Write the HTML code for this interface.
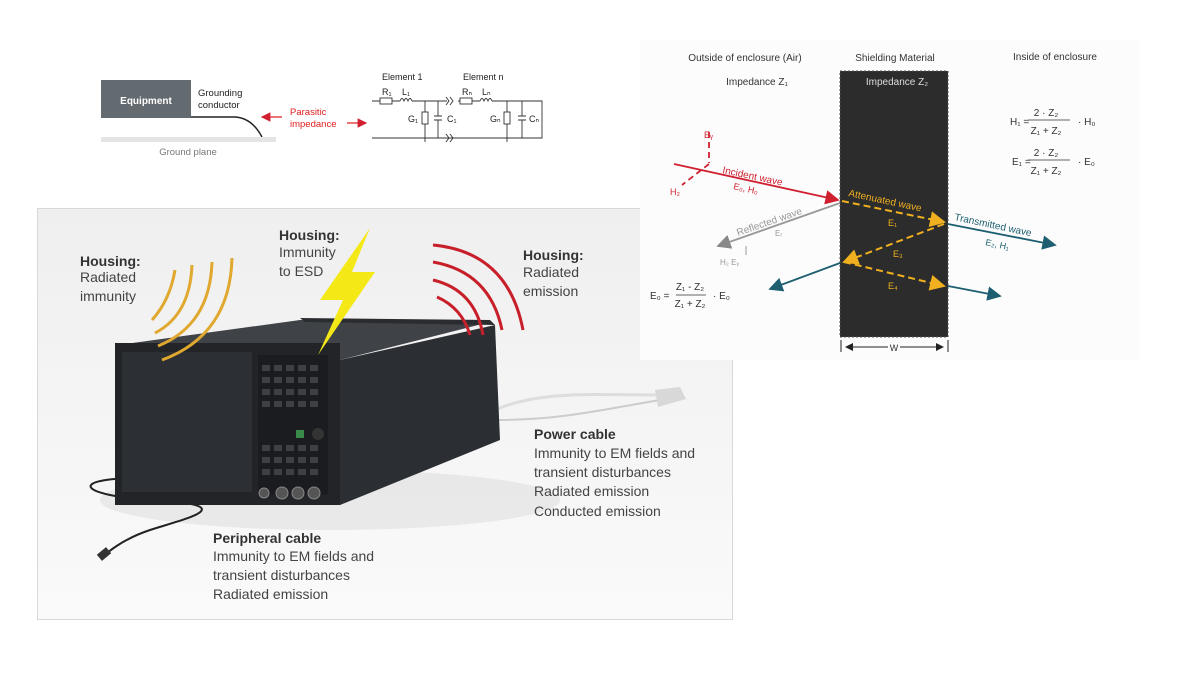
<!DOCTYPE html>
<html><head><meta charset="utf-8"><style>
body{margin:0;background:#fff;}
svg{display:block;font-family:"Liberation Sans",sans-serif;}
</style></head><body>
<svg width="1200" height="675" viewBox="0 0 1200 675" xmlns="http://www.w3.org/2000/svg">
<defs>
<linearGradient id="bg" x1="0" y1="0" x2="0" y2="1"><stop offset="0" stop-color="#efefef"/><stop offset="1" stop-color="#fafafa"/></linearGradient>
<marker id="ar" markerWidth="8" markerHeight="8" refX="7" refY="4" orient="auto"><path d="M0,0 L8,4 L0,8z" fill="#d02030"/></marker>
<marker id="ag" markerWidth="8" markerHeight="8" refX="7" refY="4" orient="auto"><path d="M0,0 L8,4 L0,8z" fill="#888"/></marker>
<marker id="ay" markerWidth="8" markerHeight="8" refX="7" refY="4" orient="auto"><path d="M0,0 L8,4 L0,8z" fill="#f0b020"/></marker>
<marker id="at" markerWidth="8" markerHeight="8" refX="7" refY="4" orient="auto"><path d="M0,0 L8,4 L0,8z" fill="#1d5f70"/></marker>
<marker id="ab" markerWidth="8" markerHeight="8" refX="7" refY="4" orient="auto"><path d="M0,0 L8,4 L0,8z" fill="#222"/></marker>
</defs>

<!-- top-left circuit -->
<rect x="101" y="80" width="90" height="38" fill="#636b70"/>
<text x="146" y="104" font-size="10" font-weight="bold" fill="#fff" text-anchor="middle">Equipment</text>
<text x="198" y="96" font-size="9.5" fill="#222">Grounding</text>
<text x="198" y="108" font-size="9.5" fill="#222">conductor</text>
<path d="M191,117 L235,117 Q252,118 262,137" fill="none" stroke="#222" stroke-width="1.5"/>
<rect x="101" y="137" width="175" height="5" fill="#e4e4e4"/>
<text x="188" y="155" font-size="9.5" fill="#777" text-anchor="middle">Ground plane</text>
<line x1="282" y1="117" x2="262" y2="117" stroke="#e02020" stroke-width="1.2" marker-end="url(#ar)"/>
<text x="290" y="115" font-size="9.5" fill="#e02020">Parasitic</text>
<text x="290" y="127" font-size="9.5" fill="#e02020">impedance</text>
<line x1="347" y1="123" x2="366" y2="123" stroke="#e02020" stroke-width="1.2" marker-end="url(#ar)"/>
<g stroke="#333" stroke-width="0.9" fill="none">
<path d="M372,101 H380 M392,101 H400 M412,101 H447 M458,101 H460 M472,101 H480 M492,101 H542 V138 H372"/>
<rect x="380" y="98" width="12" height="6"/>
<path d="M400,101 q2,-5 4,0 q2,-5 4,0 q2,-5 4,0"/>
<rect x="460" y="98" width="12" height="6"/>
<path d="M480,101 q2,-5 4,0 q2,-5 4,0 q2,-5 4,0"/>
<path d="M425,101 V112 M425,124 V142"/><rect x="422" y="112" width="6" height="12"/>
<path d="M438,101 V116 M434,116 H442 M434,120 H442 M438,120 V138"/>
<path d="M507,101 V112 M507,124 V142"/><rect x="504" y="112" width="6" height="12"/>
<path d="M522,101 V116 M518,116 H526 M518,120 H526 M522,120 V138"/>
<path d="M446,97 l3,4 -3,4 M450,97 l3,4 -3,4 M446,134 l3,4 -3,4 M450,134 l3,4 -3,4"/>
</g>
<g font-size="9" fill="#222">
<text x="382" y="80">Element 1</text><text x="463" y="80">Element n</text>
<text x="382" y="95">R₁</text><text x="402" y="95">L₁</text>
<text x="462" y="95">Rₙ</text><text x="482" y="95">Lₙ</text>
<text x="408" y="122">G₁</text><text x="447" y="122">C₁</text>
<text x="490" y="122">Gₙ</text><text x="529" y="122">Cₙ</text>
</g>

<!-- photo panel -->
<rect x="37.5" y="208.5" width="695" height="411" fill="url(#bg)" stroke="#d8d8d8"/>
<rect x="640" y="40" width="500" height="320" fill="#fcfcfc"/>
<ellipse cx="330" cy="500" rx="230" ry="30" fill="#e0e0e0" opacity="0.6"/>
<!-- cables -->
<path d="M495,410 C540,390 600,395 660,395" fill="none" stroke="#ddd" stroke-width="3"/>
<path d="M495,420 C560,420 600,410 660,400" fill="none" stroke="#ccc" stroke-width="2"/>
<path d="M655,390 l25,-3 l6,12 l-28,8z" fill="#d8d8d8"/>
<path d="M130,478 C70,480 80,495 150,500 C250,505 180,520 150,530 C120,540 105,555 105,555" fill="none" stroke="#222" stroke-width="2"/>
<rect x="98" y="550" width="12" height="8" fill="#333" transform="rotate(-40 104 554)"/>
<!-- device -->
<polygon points="118,345 300,320 490,322 340,360" fill="#3f4247"/>
<polygon points="300,318 490,320 495,325 305,322" fill="#2a2c30"/>
<polygon points="340,360 495,325 500,440 340,505" fill="#2b2e33"/>
<rect x="115" y="343" width="225" height="162" fill="#222428"/>
<rect x="122" y="352" width="130" height="140" fill="#2c2f33"/>
<rect x="258" y="355" width="70" height="140" fill="#1b1c1f"/>
<g fill="#3d4045">
<rect x="262" y="365" width="8" height="6"/><rect x="274" y="365" width="8" height="6"/><rect x="286" y="365" width="8" height="6"/><rect x="298" y="365" width="8" height="6"/><rect x="310" y="365" width="8" height="6"/>
<rect x="262" y="377" width="8" height="6"/><rect x="274" y="377" width="8" height="6"/><rect x="286" y="377" width="8" height="6"/><rect x="298" y="377" width="8" height="6"/><rect x="310" y="377" width="8" height="6"/>
<rect x="262" y="389" width="8" height="6"/><rect x="274" y="389" width="8" height="6"/><rect x="286" y="389" width="8" height="6"/><rect x="298" y="389" width="8" height="6"/><rect x="310" y="389" width="8" height="6"/>
<rect x="262" y="401" width="8" height="6"/><rect x="274" y="401" width="8" height="6"/><rect x="286" y="401" width="8" height="6"/><rect x="298" y="401" width="8" height="6"/><rect x="310" y="401" width="8" height="6"/>
<rect x="262" y="445" width="8" height="6"/><rect x="274" y="445" width="8" height="6"/><rect x="286" y="445" width="8" height="6"/><rect x="298" y="445" width="8" height="6"/><rect x="310" y="445" width="8" height="6"/>
<rect x="262" y="457" width="8" height="6"/><rect x="274" y="457" width="8" height="6"/><rect x="286" y="457" width="8" height="6"/><rect x="298" y="457" width="8" height="6"/><rect x="310" y="457" width="8" height="6"/>
<rect x="262" y="469" width="8" height="6"/><rect x="274" y="469" width="8" height="6"/><rect x="286" y="469" width="8" height="6"/><rect x="298" y="469" width="8" height="6"/><rect x="310" y="469" width="8" height="6"/>
</g>
<rect x="296" y="430" width="8" height="8" fill="#3a8a4a"/><circle cx="318" cy="434" r="6" fill="#333"/>
<g fill="#555" stroke="#888"><circle cx="264" cy="493" r="5"/><circle cx="282" cy="493" r="6"/><circle cx="298" cy="493" r="6"/><circle cx="314" cy="493" r="6"/></g>
<!-- waves -->
<g fill="none" stroke="#e0a82e" stroke-width="3">
<path d="M152,320 Q170,300 175,270"/><path d="M155,333 Q190,315 192,265"/><path d="M158,346 Q210,325 212,262"/><path d="M162,360 Q230,335 232,258"/>
</g>
<g fill="none" stroke="#c8202a" stroke-width="3">
<path d="M437,297 Q462,308 470,335"/>
<path d="M433,280 Q475,290 483,335"/>
<path d="M433,262 Q490,272 502,330"/>
<path d="M433,245 Q508,252 523,330"/>
</g>
<polygon points="370,228 320,300 343,300 318,355 375,272 352,272" fill="#f4e816"/>
<g font-size="14" fill="#444">
<text x="80" y="266" font-weight="bold" fill="#333">Housing:</text><text x="80" y="282">Radiated</text><text x="80" y="301">immunity</text>
<text x="279" y="240" font-weight="bold" fill="#333">Housing:</text><text x="279" y="257">Immunity</text><text x="279" y="276">to ESD</text>
<text x="523" y="260" font-weight="bold" fill="#333">Housing:</text><text x="523" y="277">Radiated</text><text x="523" y="296">emission</text>
<text x="534" y="439" font-weight="bold" fill="#333">Power cable</text><text x="534" y="458">Immunity to EM fields and</text><text x="534" y="477">transient disturbances</text><text x="534" y="496">Radiated emission</text><text x="534" y="516">Conducted emission</text>
<text x="213" y="543" font-weight="bold" fill="#333">Peripheral cable</text><text x="213" y="561">Immunity to EM fields and</text><text x="213" y="580">transient disturbances</text><text x="213" y="599">Radiated emission</text>
</g>

<!-- shielding diagram -->
<rect x="840" y="71" width="108" height="266" fill="#2c2c2c" stroke="#555" stroke-dasharray="2,2"/>
<g font-size="10" fill="#333">
<text x="745" y="61" text-anchor="middle">Outside of enclosure (Air)</text>
<text x="895" y="61" text-anchor="middle">Shielding Material</text>
<text x="1055" y="60" text-anchor="middle">Inside of enclosure</text>
<text x="757" y="85" text-anchor="middle">Impedance Z₁</text>
<text x="897" y="85" text-anchor="middle" fill="#ddd">Impedance Z₂</text>
<text x="1010" y="125">H₁ =</text><text x="1078" y="125">· H₀</text>
<text x="1012" y="165">E₁ =</text><text x="1078" y="165">· E₀</text>
<text x="1046" y="116" text-anchor="middle">2 · Z₂</text><text x="1046" y="134" text-anchor="middle">Z₁ + Z₂</text>
<text x="1046" y="156" text-anchor="middle">2 · Z₂</text><text x="1046" y="174" text-anchor="middle">Z₁ + Z₂</text>
<text x="650" y="299">E₀ =</text><text x="713" y="299">· E₀</text>
<text x="690" y="290" text-anchor="middle">Z₁ - Z₂</text><text x="690" y="307" text-anchor="middle">Z₁ + Z₂</text>
</g>
<g stroke="#333" stroke-width="0.8"><line x1="1028" y1="120" x2="1070" y2="120"/><line x1="1028" y1="160" x2="1070" y2="160"/><line x1="676" y1="295" x2="706" y2="295"/></g>
<line x1="674" y1="164" x2="838" y2="200" stroke="#d02030" stroke-width="1.8" marker-end="url(#ar)"/>
<line x1="709" y1="132" x2="709" y2="163" stroke="#d02030" stroke-width="1.8" stroke-dasharray="6,4"/>
<line x1="709" y1="164" x2="682" y2="185" stroke="#d02030" stroke-width="1.8" stroke-dasharray="6,4"/>
<text x="704" y="138" font-size="9" fill="#d02030">Eᵧ</text><text x="670" y="195" font-size="9" fill="#d02030">H₂</text>
<text x="722" y="173" font-size="10" fill="#d02030" transform="rotate(12 722 173)">Incident wave</text>
<text x="733" y="189" font-size="9" fill="#d02030" transform="rotate(12 733 189)">E₀, H₀</text>
<line x1="840" y1="203" x2="718" y2="246" stroke="#999" stroke-width="1.8" marker-end="url(#ag)"/>
<text x="738" y="236" font-size="10" fill="#999" transform="rotate(-19 738 236)">Reflected wave</text>
<text x="775" y="236" font-size="8" fill="#999">Eᵣ</text>
<text x="720" y="265" font-size="8" fill="#999">H₂  Eᵧ</text>
<line x1="746" y1="246" x2="746" y2="255" stroke="#999"/>
<g stroke="#f0b020" stroke-width="2" stroke-dasharray="7,4" fill="none">
<line x1="842" y1="201" x2="944" y2="222" marker-end="url(#ay)"/>
<line x1="944" y1="224" x2="844" y2="262" marker-end="url(#ay)"/>
<line x1="844" y1="262" x2="944" y2="286" marker-end="url(#ay)"/>
</g>
<text x="848" y="196" font-size="10" fill="#f0b020" transform="rotate(12 848 196)">Attenuated wave</text>
<text x="888" y="226" font-size="9" fill="#f0b020">E₁</text><text x="893" y="257" font-size="9" fill="#f0b020">E₃</text><text x="888" y="289" font-size="9" fill="#f0b020">E₄</text>
<line x1="948" y1="224" x2="1055" y2="245" stroke="#1d5f70" stroke-width="1.8" marker-end="url(#at)"/>
<text x="954" y="220" font-size="10" fill="#1d5f70" transform="rotate(12 954 220)">Transmitted wave</text>
<text x="985" y="245" font-size="9" fill="#1d5f70" transform="rotate(12 985 245)">E₂, H₁</text>
<line x1="840" y1="263" x2="770" y2="289" stroke="#1d5f70" stroke-width="1.8" marker-end="url(#at)"/>
<line x1="948" y1="286" x2="1000" y2="296" stroke="#1d5f70" stroke-width="1.8" marker-end="url(#at)"/>
<g stroke="#222" stroke-width="1"><line x1="841" y1="340" x2="841" y2="352"/><line x1="948" y1="340" x2="948" y2="352"/>
<line x1="846" y1="347" x2="943" y2="347" marker-end="url(#ab)"/><line x1="943" y1="347" x2="846" y2="347" marker-end="url(#ab)"/></g>
<rect x="888" y="341" width="12" height="10" fill="#fcfcfc"/><text x="894" y="351" font-size="9" fill="#333" text-anchor="middle">W</text>
</svg>
</body></html>
